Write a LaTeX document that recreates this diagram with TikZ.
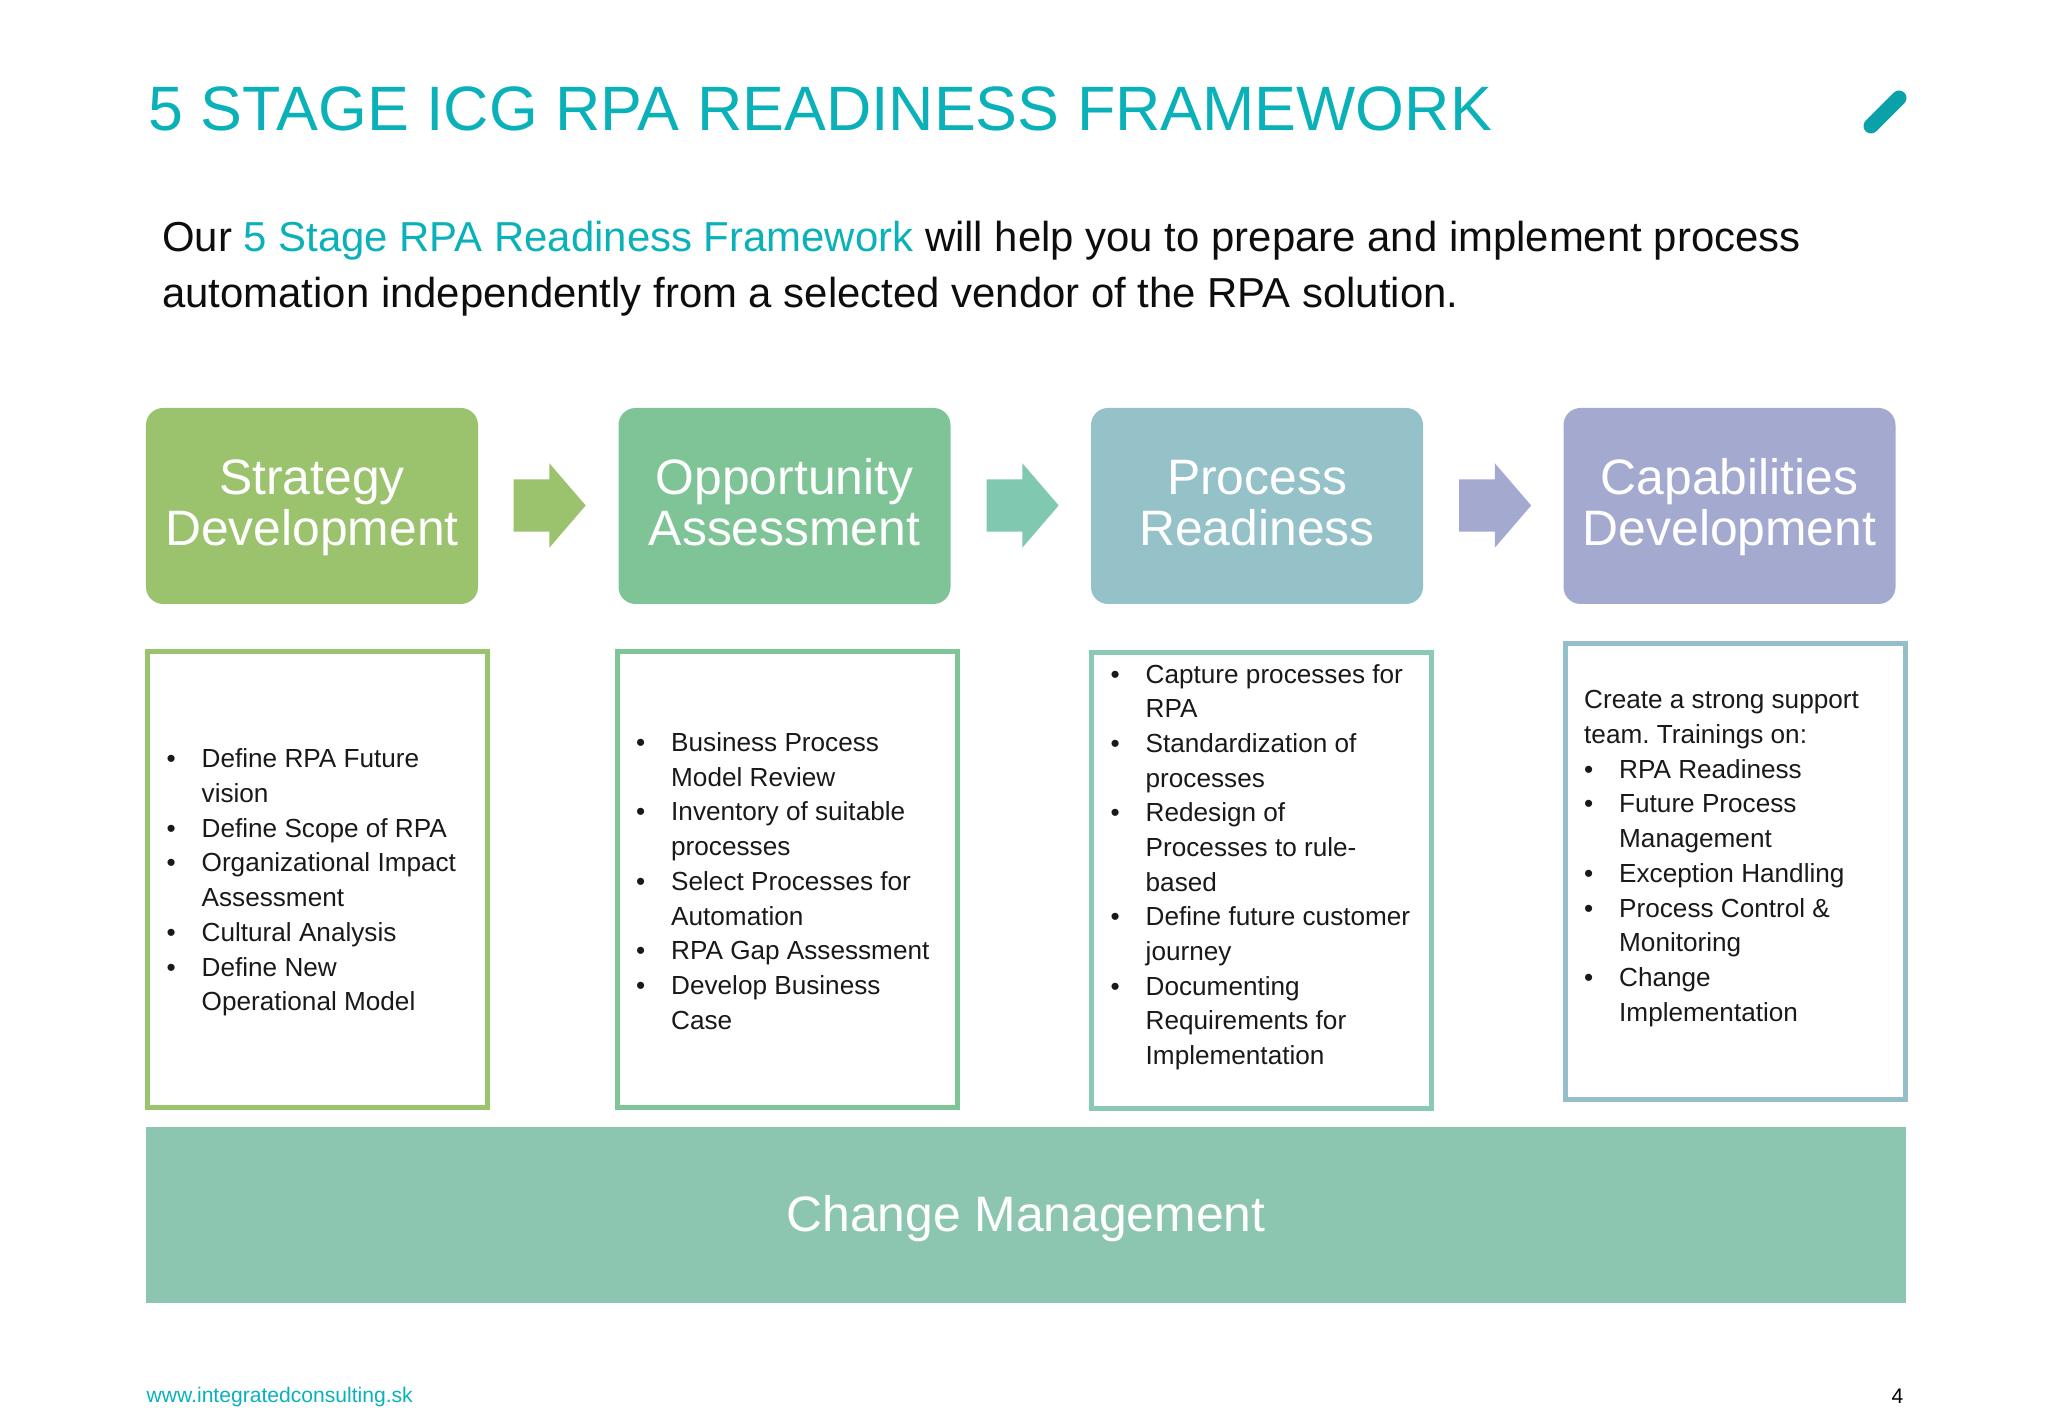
\documentclass[tikz,border=0pt]{standalone}
\usepackage{fontspec}
\setmainfont{Liberation Sans}
\usepackage{xcolor}
\usetikzlibrary{shapes.arrows, positioning}

\definecolor{titleteal}{HTML}{0BB1B9}
\definecolor{penteal}{HTML}{0AA2A8}
\definecolor{stagegreen}{HTML}{9BC26D}
\definecolor{stagejade}{HTML}{7FC497}
\definecolor{stageblue}{HTML}{94C2C8}
\definecolor{stageviolet}{HTML}{A4A9CF}
\definecolor{arrowmint}{HTML}{80C8B0}
\definecolor{edgemint}{HTML}{8CC9B2}
\definecolor{edgeblue}{HTML}{94BFCA}
\definecolor{changemint}{HTML}{8CC6B0}

\frenchspacing
\newcommand{\lbul}{\llap{\textbullet\hspace{.26cm}}}
\newcommand{\stagetext}[2]{\rule{0pt}{12.6pt}#1\\#2\strut}

\tikzset{
	stagebox/.style={rounded corners=.17cm, minimum width=3.32cm, minimum height=1.96cm, inner sep=0pt, text=white, align=center, font=\fontsize{14.17}{14.5}\selectfont},
	stagearrow/.style={single arrow, inner xsep=0pt, inner ysep=.255cm, minimum width=.83cm, minimum height=.72cm, single arrow head extend=.16cm, single arrow tip angle=98.6},
	listbox/.style={draw, line width=.05cm, minimum width=3.40cm, minimum height=4.56cm, inner sep=0pt},
	listtext/.style={anchor=west, inner sep=0pt, align=left, text=black!90, font=\fontsize{7.44}{9.87}\selectfont},
}

\begin{document}
\begin{tikzpicture}[scale=1]
	\useasboundingbox (0,0) rectangle (20.48,14.18);

	\node (title) [anchor=base west, inner sep=0pt, text=titleteal, font=\fontsize{17.85}{20}\selectfont] at (1.48,12.87) {5 STAGE ICG RPA READINESS FRAMEWORK};
	\coordinate (penlow) at (18.71,12.92);
	\coordinate (penhigh) at (18.99,13.20);
	\draw [line width=.15cm, line cap=round, penteal] (penlow) -- (penhigh);

	\node (intro) [anchor=west, inner sep=0pt, align=left, text=black!95, font=\fontsize{11.92}{16}\selectfont] at (1.615,11.495) {Our \textcolor{titleteal}{5 Stage RPA Readiness Framework} will help you to prepare and implement process\\automation independently from a selected vendor of the RPA solution.};

	% stages
	\node (strategy) [stagebox, fill=stagegreen] at (3.12,9.12) {\stagetext{Strategy}{Development}};
	\node (opportunity) [stagebox, fill=stagejade] at (7.845,9.12) {\stagetext{Opportunity}{Assessment}};
	\node (process) [stagebox, fill=stageblue] at (12.57,9.12) {\stagetext{Process}{Readiness}};
	\node (capabilities) [stagebox, fill=stageviolet] at (17.295,9.12) {\stagetext{Capabilities}{Development}};

	\node (firstarrow) [stagearrow, fill=stagegreen] at (5.384,9.125) {};
	\node (secondarrow) [stagearrow, fill=arrowmint] at (10.114,9.125) {};
	\node (thirdarrow) [stagearrow, fill=stageviolet] at (14.839,9.125) {};

	% lists
	\node (strategybox) [listbox, draw=stagegreen] at (3.175,5.385) {};
	\node (opportunitybox) [listbox, draw=stagejade] at (7.87,5.385) {};
	\node (processbox) [listbox, draw=edgemint] at (12.61,5.375) {};
	\node (capabilitiesbox) [listbox, draw=edgeblue] at (17.355,5.465) {};

	\node (strategylist) [listtext] at (2.01,5.354) {\lbul Define RPA Future\\vision\\\lbul Define Scope of RPA\\\lbul Organizational Impact\\Assessment\\\lbul Cultural Analysis\\\lbul Define New\\Operational Model};
	\node (opportunitylist) [listtext] at (6.705,5.37) {\lbul Business Process\\Model Review\\\lbul Inventory of suitable\\processes\\\lbul Select Processes for\\Automation\\\lbul RPA Gap Assessment\\\lbul Develop Business\\Case};
	\node (processlist) [listtext] at (11.45,5.509) {\lbul Capture processes for\\RPA\\\lbul Standardization of\\processes\\\lbul Redesign of\\Processes to rule-\\based\\\lbul Define future customer\\journey\\\lbul Documenting\\Requirements for\\Implementation};
	\node (capabilitieslist) [listtext] at (15.835,5.594) {Create a strong support\\team. Trainings on:\\\hspace{.35cm}\lbul RPA Readiness\\\hspace{.35cm}\lbul Future Process\\\hspace{.35cm}Management\\\hspace{.35cm}\lbul Exception Handling\\\hspace{.35cm}\lbul Process Control \&\\\hspace{.35cm}Monitoring\\\hspace{.35cm}\lbul Change\\\hspace{.35cm}Implementation};

	\node (change) [minimum width=17.60cm, minimum height=1.76cm, inner sep=0pt, text height=12.5pt, text depth=3pt, fill=changemint, text=white, font=\fontsize{14.17}{17}\selectfont] at (10.26,2.03) {Change Management};

	\node (website) [anchor=base west, inner sep=0pt, text=titleteal, font=\fontsize{6}{7}\selectfont] at (1.46,.15) {www.integratedconsulting.sk};
	\node (pagenumber) [anchor=base east, inner sep=0pt, text=black, font=\fontsize{6}{7}\selectfont] at (19.04,.14) {4};
\end{tikzpicture}
\end{document}
